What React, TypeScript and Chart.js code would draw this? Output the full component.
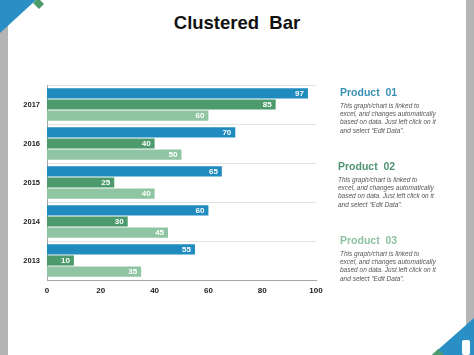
import React, { useEffect, useRef } from "react";
import { Chart, registerables } from "chart.js";

Chart.register(...registerables);

const categories = ["2017", "2016", "2015", "2014", "2013"];
const product01 = [97, 70, 65, 60, 55];
const product02 = [85, 40, 25, 30, 10];
const product03 = [60, 50, 40, 45, 35];
const seriesNames = ["Product 01", "Product 02", "Product 03"];
const xTicks = [0, 20, 40, 60, 80, 100];

const colors = ["#1f8bbf", "#4d9a6d", "#8fc5a3"];
const titleColors = ["#3a8fb5", "#4f9472", "#8cc2a2"];
const desc = [
  "This graph/chart is linked to",
  "excel, and changes automatically",
  "based on data. Just left click on it",
  "and select \u201cEdit Data\u201d.",
];

const FONT = "'Liberation Sans', Arial, Helvetica, sans-serif";

const valueLabels = {
  id: "valueLabels",
  afterDatasetsDraw(chart: any) {
    const ctx = chart.ctx;
    ctx.save();
    ctx.fillStyle = "#ffffff";
    ctx.font = `bold 8px ${FONT}`;
    ctx.textAlign = "right";
    ctx.textBaseline = "middle";
    chart.data.datasets.forEach((ds: any, i: number) => {
      const meta = chart.getDatasetMeta(i);
      meta.data.forEach((el: any, j: number) => {
        ctx.fillText(String(ds.data[j]), el.x - 4, el.y + 0.5);
      });
    });
    ctx.restore();
  },
};

export default function App() {
  const ref = useRef<HTMLCanvasElement | null>(null);
  useEffect(() => {
    if (!ref.current) return;
    const chart = new Chart(ref.current, {
      type: "bar",
      data: {
        labels: categories,
        datasets: [product01, product02, product03].map((d, i) => ({
          label: seriesNames[i],
          data: d,
          backgroundColor: colors[i],
          borderWidth: 0,
          barPercentage: 0.92,
          categoryPercentage: 0.85,
        })),
      },
      options: {
        indexAxis: "y",
        animation: false,
        responsive: false,
        maintainAspectRatio: false,
        devicePixelRatio: 1,
        layout: { padding: { left: 0, right: 158, top: 85, bottom: 55 } },
        plugins: {
          legend: { display: false },
          tooltip: { enabled: false },
          title: { display: false },
        },
        scales: {
          x: {
            min: 0,
            max: 100,
            afterBuildTicks: (scale: any) => {
              scale.ticks = xTicks.map((v) => ({ value: v }));
            },
            afterFit: (scale: any) => {
              scale.height = 20;
            },
            grid: { display: false, drawTicks: false },
            border: { display: true, color: "#a6a6a6", width: 1 },
            ticks: {
              padding: 6,
              color: "#222",
              font: { family: FONT, size: 8, weight: "bold" },
            },
          },
          y: {
            afterFit: (scale: any) => {
              scale.width = 47;
            },
            grid: { display: true, color: "#e2e2e2", drawTicks: false },
            border: { display: true, color: "#a6a6a6", width: 1 },
            ticks: {
              padding: 7,
              color: "#222",
              font: { family: FONT, size: 7.5, weight: "bold" },
            },
          },
        },
      },
      plugins: [valueLabels],
    } as any);
    return () => chart.destroy();
  }, []);

  const blocks = [
    { x: 340, y: 86 },
    { x: 338, y: 160 },
    { x: 340, y: 234 },
  ];

  return (
    <div
      style={{
        position: "absolute",
        left: 0,
        top: 0,
        width: 474,
        height: 355,
        background: "#ffffff",
        overflow: "hidden",
        fontFamily: FONT,
      }}
    >
      <div style={{ position: "absolute", left: 0, top: 0, width: 8, height: 355, background: "#b4b4b4" }} />
      <div style={{ position: "absolute", left: 466, top: 0, width: 8, height: 355, background: "#b4b4b4" }} />
      <svg width={474} height={355} style={{ position: "absolute", left: 0, top: 0 }}>
        <polygon points="0,0 36,0 0,33" fill="#2a8fc4" />
        <polygon points="33,3 38,-2 44,4 39,9" fill="#4d9a6d" />
        <polygon points="474,318 474,355 432,355" fill="#2a8fc4" />
        <polygon points="432,355 438,349 444,355" fill="#4d9a6d" />
        <rect x={462} y={340} width={8} height={15} rx={2} fill="#ffffff" />
      </svg>
      <div
        style={{
          position: "absolute",
          left: 0,
          top: 12,
          width: 474,
          textAlign: "center",
          fontSize: 18.5,
          fontWeight: "bold",
          color: "#111",
          whiteSpace: "pre",
        }}
      >
        {"Clustered  Bar"}
      </div>
      <canvas ref={ref} width={474} height={355} style={{ position: "absolute", left: 0, top: 0, width: 474, height: 355 }} />
      {blocks.map((b, i) => (
        <div key={i} style={{ position: "absolute", left: b.x, top: b.y, width: 125 }}>
          <div style={{ fontSize: 10.5, fontWeight: "bold", color: titleColors[i], whiteSpace: "pre", lineHeight: "13px" }}>
            {seriesNames[i].replace(" ", "  ")}
          </div>
          <div style={{ marginTop: 3, fontSize: 6.5, fontStyle: "italic", color: "#555", lineHeight: "8.2px", whiteSpace: "pre" }}>
            {desc.join("\n")}
          </div>
        </div>
      ))}
    </div>
  );
}
